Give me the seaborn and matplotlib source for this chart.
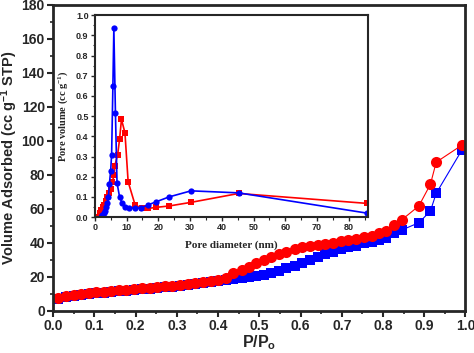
import numpy as np
import pandas as pd
import matplotlib
matplotlib.use("Agg")
import matplotlib.pyplot as plt
import seaborn as sns
from matplotlib.ticker import MultipleLocator

# main isotherm (P/P0 vs volume adsorbed)
p_red = [0.013, 0.031, 0.05, 0.067, 0.086, 0.104, 0.123, 0.141, 0.16, 0.178, 0.197, 0.215, 0.234,
         0.252, 0.271, 0.289, 0.308, 0.326, 0.345, 0.363, 0.382, 0.40, 0.419, 0.437, 0.457, 0.475,
         0.493, 0.511, 0.529, 0.548, 0.565, 0.586, 0.604, 0.623, 0.642, 0.66, 0.678, 0.698, 0.716,
         0.734, 0.754, 0.773, 0.79, 0.808, 0.827, 0.845, 0.887, 0.915, 0.929, 0.991]
v_red = [7.5, 8.8, 9.6, 10.1, 10.5, 10.9, 11.3, 11.7, 12.1, 12.5, 12.9, 13.3, 13.7,
         14.1, 14.5, 14.9, 15.3, 15.8, 16.3, 16.8, 17.4, 18.2, 19.5, 22.5, 24.2, 26.0,
         28.0, 30.0, 32.0, 33.5, 34.9, 36.3, 37.5, 38.2, 39.0, 39.6, 40.2, 41.0, 41.8,
         42.5, 43.3, 44.3, 45.7, 47.3, 50.6, 53.5, 61.8, 74.5, 87.5, 97.5]

p_blue = p_red
v_blue = [6.9, 8.3, 9.1, 9.6, 10.0, 10.4, 10.8, 11.2, 11.6, 12.0, 12.4, 12.8, 13.2,
          13.6, 14.0, 14.4, 14.8, 15.3, 15.8, 16.3, 16.9, 17.5, 18.0, 18.8, 19.3, 19.8,
          20.6, 21.2, 22.5, 23.7, 25.1, 26.5, 28.0, 30.0, 31.6, 33.3, 34.9, 36.3, 37.5,
          38.4, 39.8, 40.8, 41.8, 42.9, 45.7, 47.6, 51.9, 58.8, 69.2, 94.5]

# inset pore size distribution
d_red = [1.2, 1.6, 2.0, 2.5, 3.0, 3.5, 4.0, 4.5, 5.0, 5.5, 6.1, 6.3, 7.2, 7.8, 8.4, 9.5,
         10.5, 12.7, 15.0, 16.9, 19.2, 23.4, 30.3, 45.3, 85.6]
pv_red = [0.0, 0.02, 0.035, 0.05, 0.06, 0.08, 0.10, 0.12, 0.14, 0.175, 0.208, 0.254, 0.31,
          0.385, 0.484, 0.417, 0.175, 0.06, 0.043, 0.043, 0.048, 0.055, 0.073, 0.117, 0.068]

d_blue = [2.0, 2.4, 2.8, 3.2, 3.6, 4.0, 4.3, 4.6, 5.0, 5.3, 5.7, 6.0, 6.5, 7.0, 7.8, 8.6,
          9.5, 10.8, 12.7, 14.6, 16.7, 19.2, 23.4, 30.3, 45.3, 85.6]
pv_blue = [0.0, 0.01, 0.02, 0.03, 0.05, 0.07, 0.10, 0.165, 0.23, 0.31, 0.65, 0.935, 0.515,
           0.17, 0.10, 0.07, 0.05, 0.045, 0.045, 0.045, 0.06, 0.075, 0.10, 0.13, 0.12, 0.02]

sns.set_style("ticks")
plt.rcParams['font.family'] = ['Liberation Sans', 'DejaVu Sans']
plt.rcParams['mathtext.default'] = 'regular'

fig = plt.figure(figsize=(4.74, 3.53), dpi=100)
ax = fig.add_axes([0.112, 0.119, 0.870, 0.867])

sns.lineplot(x=p_blue, y=v_blue, ax=ax, color='#0000ff', marker='s', markersize=7,
             markeredgewidth=0, linewidth=0.8, sort=False, estimator=None)
sns.lineplot(x=p_red, y=v_red, ax=ax, color='#ff0000', marker='o', markersize=8,
             markeredgewidth=0, linewidth=0.8, sort=False, estimator=None)

ax.set_xlim(0, 1.0)
ax.set_ylim(0, 180)
ax.xaxis.set_major_locator(MultipleLocator(0.1))
ax.xaxis.set_minor_locator(MultipleLocator(0.05))
ax.yaxis.set_major_locator(MultipleLocator(20))
ax.yaxis.set_minor_locator(MultipleLocator(10))
ax.set_xticklabels([f"{v:.1f}" for v in ax.get_xticks()])
ax.tick_params(which='major', length=4, width=1.5, labelsize=10, pad=2)
ax.tick_params(which='minor', length=2.5, width=1.2)
for lab in ax.get_xticklabels() + ax.get_yticklabels():
    lab.set_fontweight('bold')
for s in ax.spines.values():
    s.set_visible(True)
    s.set_linewidth(2)
ax.set_xlabel("P/P$_{\\mathregular{o}}$", fontsize=11.5, fontweight='bold', labelpad=0)
ax.set_ylabel("Volume Adsorbed (cc g$^{-1}$ STP)", fontsize=10.5, fontweight='bold', labelpad=1)

# inset
ins = fig.add_axes([0.200, 0.385, 0.576, 0.572])
sns.lineplot(x=d_red, y=pv_red, ax=ins, color='#ff0000', marker='s', markersize=4,
             markeredgewidth=0, linewidth=1.2, sort=False, estimator=None)
sns.lineplot(x=d_blue, y=pv_blue, ax=ins, color='#0000ff', marker='o', markersize=4.5,
             markeredgewidth=0, linewidth=1.2, sort=False, estimator=None)
ins.set_xlim(0, 86)
ins.set_ylim(0, 1.0)
ins.xaxis.set_major_locator(MultipleLocator(10))
ins.xaxis.set_minor_locator(MultipleLocator(5))
ins.yaxis.set_major_locator(MultipleLocator(0.1))
ins.yaxis.set_minor_locator(MultipleLocator(0.05))
ins.set_yticklabels([f"{v:.1f}" for v in ins.get_yticks()])
ins.tick_params(which='major', length=3, width=1, labelsize=6.5, pad=1.5)
ins.tick_params(which='minor', length=1.8, width=0.8)
for lab in ins.get_xticklabels() + ins.get_yticklabels():
    lab.set_fontweight('bold')
for s in ins.spines.values():
    s.set_visible(True)
    s.set_linewidth(1.5)
ins.set_xlabel("Pore diameter (nm)", fontsize=8, fontweight='bold',
               family=['Liberation Serif'], labelpad=6)
ins.set_ylabel("Pore volume (cc g$^{-1}$)", fontsize=7.5, fontweight='bold',
               family=['Liberation Serif'], labelpad=4)

fig.savefig("out.png", dpi=100)
